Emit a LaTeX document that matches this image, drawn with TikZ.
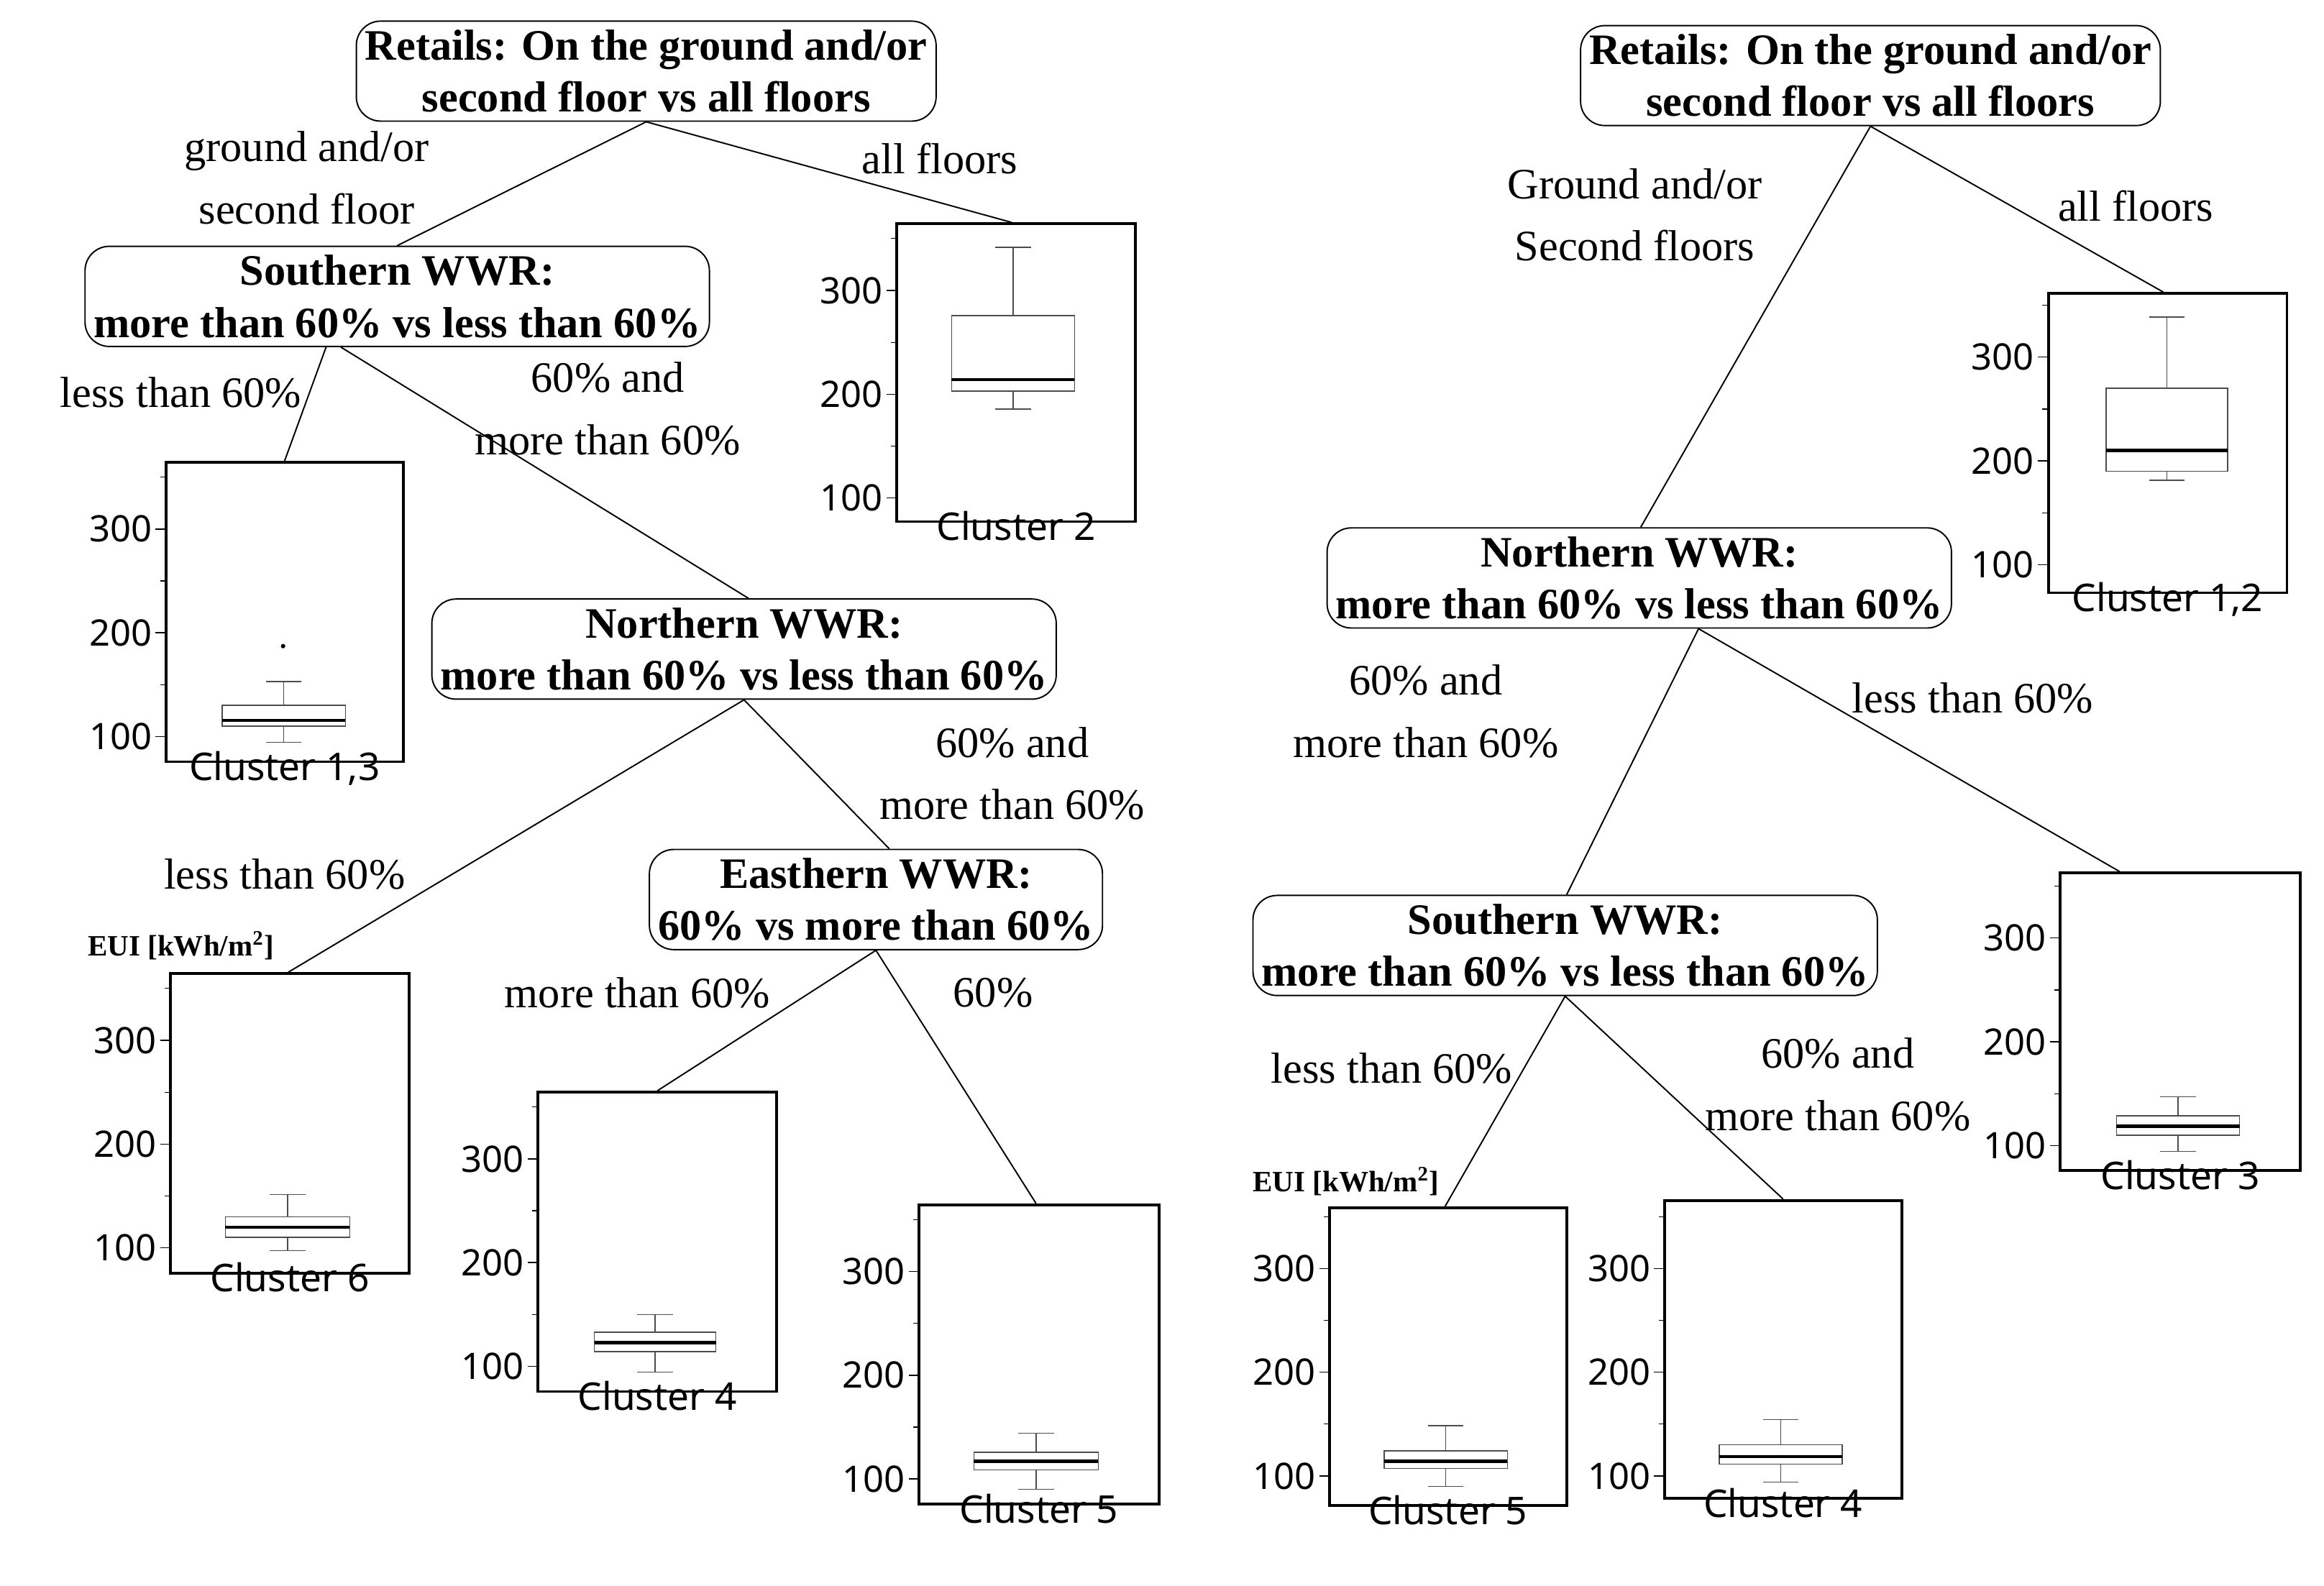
\documentclass[tikz,border=0pt]{standalone}
\usepackage{fontspec}
\setmainfont{Liberation Serif}
\newfontfamily\sansf{Noto Sans}
\usetikzlibrary{fit,calc}
\tikzset{
 dec/.style={draw,thick,rounded corners=14pt,align=center,font=\fontsize{25}{30}\selectfont\bfseries,inner sep=5pt},
 lab/.style={align=center,font=\fontsize{25}{36}\selectfont},
 eui/.style={font=\fontsize{17}{20}\selectfont\bfseries},
 clab/.style={font=\sansf\fontsize{22}{26}\selectfont},
 tlab/.style={font=\sansf\fontsize{21}{24}\selectfont,anchor=east,inner sep=2pt},
 frame/.style={draw,line width=1.6pt,inner sep=0pt},
 edge/.style={line width=0.8pt},
 bx/.style={line width=0.6pt,draw=black!70},
}
% frame: name, xl, yt, xr, yb, y100, label
\newcommand\bpframe[7]{%
 \node[frame,fit={(#2,#3)(#4,#5)}] (#1) {};
 \node[clab,anchor=north] (#1l) at ($(#1.south)+(0,-12)$) {#7};
 \foreach \v/\t in {0/100,1/200,2/300}{
   \draw[line width=0.6pt] (#2,#6-70*\v) -- ++(-7,0);
   \node[tlab] at (#2-7,#6-70*\v) {\t};}
 \foreach \v in {0.5,1.5,2.5}{\draw[line width=0.5pt] (#2,#6-70*\v) -- ++(-4,0);}
}
% box: bl, br, max, q3, med, q1, min
\newcommand\bpbox[7]{%
 \pgfmathsetmacro\mx{(#1+#2)/2}
 \draw[bx] (#1,#4) rectangle (#2,#6);
 \draw[line width=1.8pt] (#1,#5) -- (#2,#5);
 \draw[bx] (\mx,#4) -- (\mx,#3) (\mx,#6) -- (\mx,#7);
 \draw[bx] (\mx-12,#3) -- (\mx+12,#3) (\mx-12,#7) -- (\mx+12,#7);
}
\begin{document}
\begin{tikzpicture}[x=0.03cm,y=-0.03cm]
\useasboundingbox (0,0) rectangle (1568,1070);
% ---------- left tree
\node[dec] (L1) at (436,48) {Retails: On the ground and/or\\second floor vs all floors};
\node[dec] (L2) at (268,200) {Southern WWR:\\more than 60\% vs less than 60\%};
\node[dec] (L3) at (502,438) {Northern WWR:\\more than 60\% vs less than 60\%};
\node[dec] (L4) at (591,607) {Easthern WWR:\\60\% vs more than 60\%};
\bpframe{C2}{605}{151}{766}{352}{336}{Cluster 2}
\bpbox{642}{725}{167}{213}{256}{264}{276}
\bpframe{C13}{112}{312}{272}{514}{497}{Cluster 1,3}
\bpbox{150}{233}{460}{476}{486}{490}{501}
\fill (191,436) circle (1.5);
\bpframe{C6}{115}{657}{276}{859}{842}{Cluster 6}
\bpbox{152}{236}{806}{821}{828}{835}{844}
\bpframe{C4}{363}{737}{524}{939}{922}{Cluster 4}
\bpbox{401}{483}{887}{899}{906}{912}{926}
\bpframe{C5}{620}{813}{782}{1015}{998}{Cluster 5}
\bpbox{657}{741}{967}{980}{986}{992}{1005}
\draw[edge] (L1.south) -- (L2.north);
\draw[edge] (L1.south) -- ($(C2.north)+(-3,0)$);
\draw[edge] ($(L2.south)+(-48,0)$) -- (C13.north);
\draw[edge] ($(L2.south)+(-38,0)$) -- ($(L3.north)+(3,0)$);
\draw[edge] (L3.south) -- ($(C6.north)+(-1,0)$);
\draw[edge] (L3.south) -- ($(L4.north)+(9,0)$);
\draw[edge] (L4.south) -- (C4.north);
\draw[edge] (L4.south) -- ($(C5.north)+(-2,0)$);
\node[lab] at (207,120) {ground and/or\\second floor};
\node[lab] at (634,107) {all floors};
\node[lab] at (122,265) {less than 60\%};
\node[lab] at (410,276) {60\% and\\more than 60\%};
\node[lab] at (192,590) {less than 60\%};
\node[lab] at (683,522) {60\% and\\more than 60\%};
\node[lab] at (430,670) {more than 60\%};
\node[lab] at (670,670) {60\%};
\node[eui] at (122,638) {EUI [kWh/m\textsuperscript{2}]};
% ---------- right tree
\node[dec] (R1) at (1262,51) {Retails: On the ground and/or\\second floor vs all floors};
\node[dec] (R2) at (1106,390) {Northern WWR:\\more than 60\% vs less than 60\%};
\node[dec] (R3) at (1056,638) {Southern WWR:\\more than 60\% vs less than 60\%};
\bpframe{C12}{1382}{198}{1543}{400}{381}{Cluster 1,2}
\bpbox{1421}{1503}{214}{262}{304}{318}{324}
\bpframe{C3}{1390}{589}{1552}{790}{773}{Cluster 3}
\bpbox{1428}{1511}{740}{753}{760}{766}{777}
\bpframe{R5}{897}{815}{1057}{1016}{996}{Cluster 5}
\bpbox{934}{1017}{962}{979}{986}{991}{1003}
\bpframe{R4}{1123}{810}{1283}{1011}{996}{Cluster 4}
\bpbox{1160}{1243}{958}{975}{983}{988}{1000}
\draw[edge] (R1.south) -- ($(R2.north)+(1,0)$);
\draw[edge] (R1.south) -- ($(C12.north)+(-3,0)$);
\draw[edge] ($(R2.south)+(40,0)$) -- ($(R3.north)+(1,0)$);
\draw[edge] ($(R2.south)+(40,0)$) -- ($(C3.north)+(-41,0)$);
\draw[edge] (R3.south) -- ($(R5.north)+(-2,0)$);
\draw[edge] (R3.south) -- ($(R4.north)+(0,0)$);
\node[lab] at (1103,145) {Ground and/or\\Second floors};
\node[lab] at (1441,139) {all floors};
\node[lab] at (962,480) {60\% and\\more than 60\%};
\node[lab] at (1331,471) {less than 60\%};
\node[lab] at (939,721) {less than 60\%};
\node[lab] at (1240,732) {60\% and\\more than 60\%};
\node[eui] at (908,797) {EUI [kWh/m\textsuperscript{2}]};
\end{tikzpicture}
\end{document}
